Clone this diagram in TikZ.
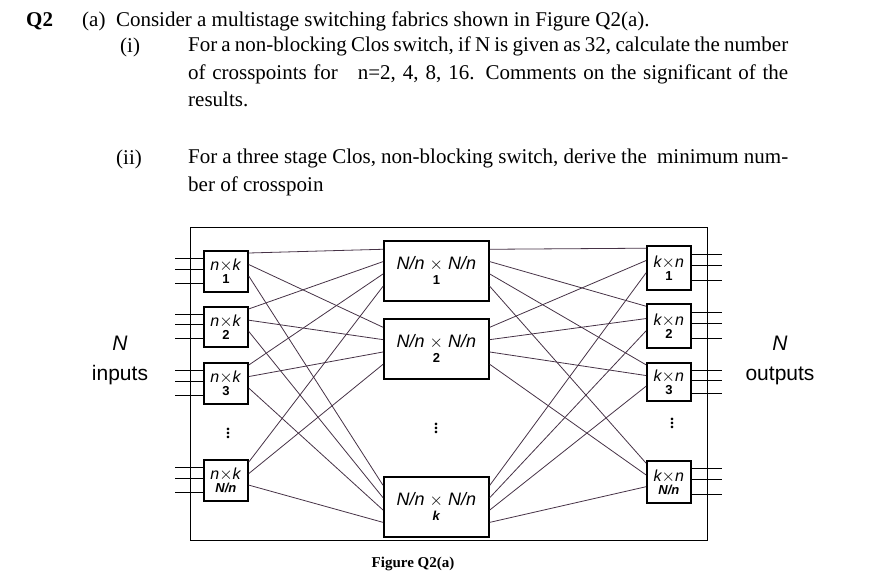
\documentclass[tikz,border=0pt]{standalone}
\usepackage{fontspec}
\setmainfont{Liberation Serif}
\newfontfamily\boxfont{Liberation Sans}
\usetikzlibrary{calc}
\definecolor{wire}{RGB}{70,50,70}
\tikzset{
  sw/.style={draw, line width=1.8pt, inner sep=0, anchor=north west, align=center,
    font=\boxfont\fontsize{16}{15}\selectfont},
  para/.style={anchor=north west, inner sep=0, text width=600pt, align=justify,
    font=\fontsize{21}{27.5}\selectfont},
  link/.style={wire, line width=0.8pt},
  pin/.style={black, line width=0.8pt}
}
\newcommand{\lab}[2]{\textit{#1}\\[-2pt]{\fontsize{13}{13}\selectfont\bfseries #2}}
\begin{document}
\begin{tikzpicture}[x=1pt, y=-1pt]
  \useasboundingbox (0,0) rectangle (888,588);

  % question text
  \node[anchor=base west, font=\bfseries\fontsize{21}{21}\selectfont, inner sep=0] (q) at (26,27) {Q2};
  \node[anchor=base west, font=\fontsize{21}{21}\selectfont, inner sep=0] (qa) at (82,27)
    {(a)\ \ Consider a multistage switching fabrics shown in Figure Q2(a).};
  \node[anchor=base west, font=\fontsize{21}{21}\selectfont, inner sep=0] (qi) at (120,53) {(i)};
  \node[para] (ti) at (188,37) {For a non-blocking Clos switch, if N is given as 32, calculate the number of crosspoints for\ \ \ n=2, 4, 8, 16. Comments on the significant of the results.};
  \node[anchor=base west, font=\fontsize{21}{21}\selectfont, inner sep=0] (qii) at (116,165) {(ii)};
  \node[para] (tii) at (188,149) {For a three stage Clos, non-blocking switch, derive the\ \ minimum number of crosspoin};

  % frame
  \node[draw, line width=1.4pt, minimum width=517pt, minimum height=313pt,
    anchor=north west, inner sep=0] (frame) at (190,227) {};

  % input stage
  \foreach \i/\y/\h/\t in {1/250/41/1, 2/306/40/2, 3/362/41/3, 4/459/41/\textit{N/n}}
    \node[sw, minimum width=44pt, minimum height=\h pt] (in\i) at (203,\y)
      {\lab{n$\times$k}{\t}};

  % middle stage
  \foreach \j/\y/\t in {1/240/1, 2/318/2, 3/476/\textit{k}}
    \node[sw, minimum width=105pt, minimum height=60pt,
      font=\boxfont\fontsize{18}{17}\selectfont] (mid\j) at (383,\y)
      {\lab{N/n $\times$ N/n}{\t}};

  % output stage
  \foreach \i/\y/\h/\t in {1/245/44/1, 2/303/44/2, 3/362/38/3, 4/460/42/\textit{N/n}}
    \node[sw, minimum width=44pt, minimum height=\h pt] (out\i) at (646,\y)
      {\lab{k$\times$n}{\t}};

  % interstage links
  \foreach \i in {1,...,4}
    \foreach \j in {1,2,3} {
      \draw[link] ($(in\i.north east)!{\j*0.27-0.2}!(in\i.south east)$)
        -- ($(mid\j.north west)!{\i*0.2-0.05}!(mid\j.south west)$);
      \draw[link] ($(mid\j.north east)!{\i*0.2-0.05}!(mid\j.south east)$)
        -- ($(out\i.north west)!{\j*0.27-0.2}!(out\i.south west)$);
    }

  % input and output pins
  \foreach \i in {1,...,4}
    \foreach \f in {0.2,0.45,0.78} {
      \draw[pin] ($(in\i.north west)!\f!(in\i.south west)$) -- ++(-28,0);
      \draw[pin] ($(out\i.north east)!\f!(out\i.south east)$) -- ++(30,0);
    }

  % dots
  \foreach \x/\y in {228/430, 436/425, 672/420}
    \node[font=\bfseries\fontsize{16}{16}\selectfont, inner sep=0] at (\x,\y) {$\vdots$};

  % side labels
  \node[font=\boxfont\fontsize{21}{30}\selectfont, align=center] (inl) at (120,360) {\textit{N}\\inputs};
  \node[font=\boxfont\fontsize{21}{30}\selectfont, align=center] (outl) at (780,360) {\textit{N}\\outputs};

  % caption
  \node[font=\bfseries\fontsize{15}{15}\selectfont] (cap) at (413,564) {Figure Q2(a)};
\end{tikzpicture}
\end{document}
